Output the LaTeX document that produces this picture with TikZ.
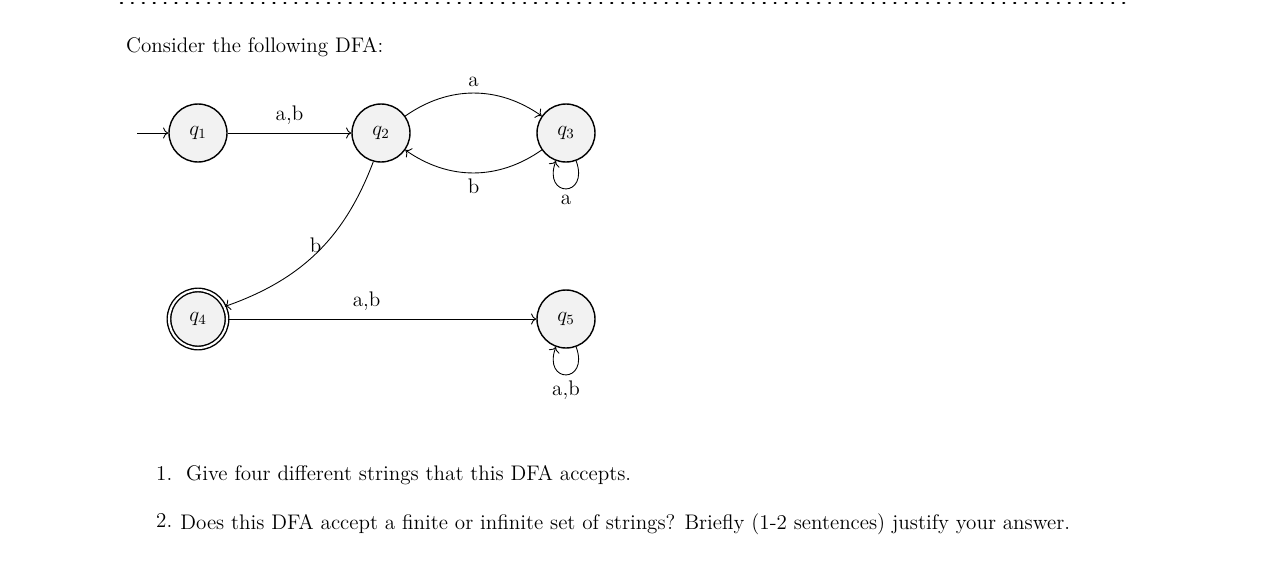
\documentclass[tikz,border=0pt]{standalone}
\usetikzlibrary{arrows.meta}
\begin{document}
\begin{tikzpicture}[x=0.02cm,y=-0.02cm,
  st/.style={circle,draw,line width=0.8pt,fill=gray!10,minimum size=1.16cm,inner sep=0pt,font=\fontsize{12}{14}\selectfont},
  acc/.style={st,double,double distance=1.2pt},
  tr/.style={-{To[length=3pt]},line width=0.5pt},
  lb/.style={font=\fontsize{12}{14}\selectfont}]
\useasboundingbox (0,0) rectangle (1275,575);
\draw[line width=1.2pt,dash pattern=on 0.6pt off 5.6pt,line cap=round] (121,3) -- (1125,3);
\node[lb,anchor=base west] (t) at (120,52) {Consider the following DFA:};
\node[st] (q1) at (198,133) {$q_1$};
\node[st] (q2) at (381,133) {$q_2$};
\node[st] (q3) at (566,133) {$q_3$};
\node[acc] (q4) at (198,319) {$q_4$};
\node[st] (q5) at (566,319) {$q_5$};
\coordinate (s) at (137,133);
\draw[tr] (s) -- (q1);
\draw[tr] (q1) -- node[lb,above=1pt]{a,b} (q2);
\draw[tr] (q2) to[bend left=35] node[lb,above]{a} (q3);
\draw[tr] (q3) to[bend left=35] node[lb,below]{b} (q2);
\draw[tr] (q3) to[out=-70,in=-110,looseness=5] node[lb,below]{a} (q3);
\draw[tr] (q2.255) to[bend left=25] node[lb,pos=0.45,left=-2pt]{b} (q4.25);
\draw[tr] (q4) -- node[lb,above=1pt,pos=0.45]{a,b} (q5);
\draw[tr] (q5) to[out=-70,in=-110,looseness=5] node[lb,below]{a,b} (q5);
\node[lb,anchor=base west] (n1) at (150,480) {1.};
\node[lb,anchor=base west] (l1) at (180,480) {Give four different strings that this DFA accepts.};
\node[lb,anchor=base west] (n2) at (150,527) {2.};
\node[lb,anchor=north west,text width=952*0.02cm,align=justify,inner sep=0pt] (l2) at (180,513) {Does this DFA accept a finite or infinite set of strings? Briefly (1-2 sentences) justify your answer.};
\end{tikzpicture}
\end{document}
